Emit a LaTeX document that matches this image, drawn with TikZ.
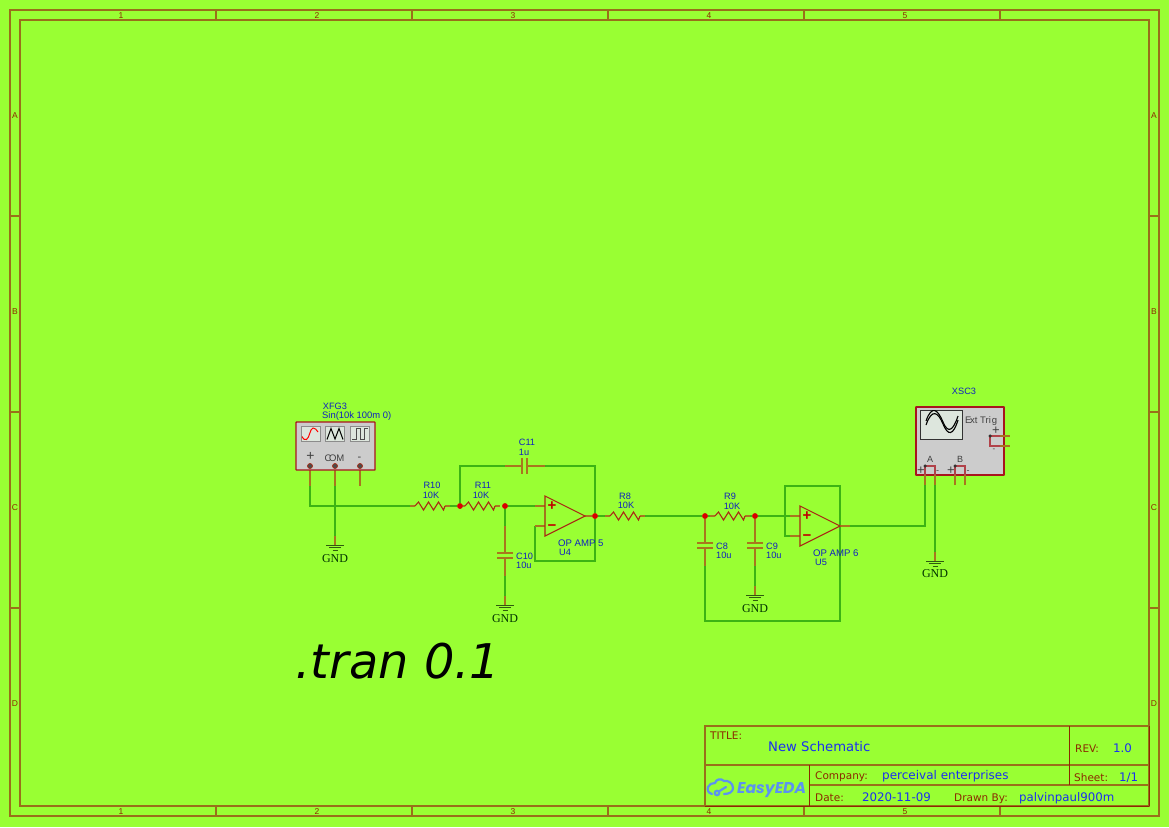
\documentclass[tikz,border=0pt]{standalone}
\usepackage{fontspec}
\setmainfont{Liberation Sans}
\newfontfamily\djv{DejaVu Sans}
\newfontfamily\serf{Liberation Serif}
\newfontfamily\logofont{Poppins}
\usetikzlibrary{calc}
\definecolor{bgc}{HTML}{99FF33}
\definecolor{framec}{HTML}{996F1A}
\definecolor{lblc}{HTML}{8B2A00}
\definecolor{wirec}{HTML}{3CB414}
\definecolor{pinc}{HTML}{A8761E}
\definecolor{partc}{HTML}{A82A14}
\definecolor{txtc}{HTML}{1020C0}
\definecolor{titc}{HTML}{1A2FF0}
\definecolor{gndc}{HTML}{2F5A10}
\definecolor{logoc}{HTML}{5B92F0}
\definecolor{boxc}{HTML}{CCCCCC}
\definecolor{btnc}{HTML}{DDE6DD}
\definecolor{redbox}{HTML}{A8141E}
\tikzset{
  x=1pt,y=-1pt,
  framel/.style={draw=framec,line width=1.5pt},
  framet/.style={draw=lblc,line width=1pt},
  wire/.style={draw=wirec,line width=1.5pt},
  pinl/.style={draw=pinc,line width=1.5pt},
  part/.style={draw=partc,line width=1.1pt},
  junc/.style={circle,fill=red!85!black,inner sep=0pt,minimum size=5.5pt},
  port/.style={circle,fill=black!70,draw=partc,line width=.7pt,inner sep=0pt,minimum size=5pt},
  lab/.style={inner sep=0pt,text=txtc,font=\fontsize{9.2}{10}\selectfont,anchor=mid,yshift=-1.2pt},
  lft/.style={lab,anchor=mid west},
  bord/.style={inner sep=0pt,text=lblc,font=\fontsize{8.5}{9}\selectfont,anchor=mid,yshift=-1pt},
  tlab/.style={inner sep=0pt,text=lblc,font=\djv\fontsize{10.5}{12}\selectfont,anchor=mid west,yshift=-2pt},
  tval/.style={inner sep=0pt,text=titc,font=\djv\fontsize{11.8}{13}\selectfont,anchor=mid west,yshift=-2pt},
  gtxt/.style={inner sep=0pt,text=black!80!green,font=\serf\fontsize{12}{13}\selectfont,anchor=mid,yshift=-2pt},
  ilab/.style={inner sep=0pt,text=black!75,font=\fontsize{9.5}{10}\selectfont,anchor=mid,yshift=-1pt},
  btn/.style={draw=black!45,fill=btnc,line width=.9pt},
  sgn/.style={inner sep=0pt,text=red!75!black,font=\bfseries\fontsize{15}{15}\selectfont,anchor=mid,yshift=-1.5pt},
}
\newcommand{\resistor}[1]{%
  \draw[pinl] (#1) -- ++(5,0) ++(30,0) -- ++(5,0);
  \draw[part] ($(#1)+(5,0)$) -- ++(3.5,-4) -- ++(5,8) -- ++(5,-8) -- ++(5,8) -- ++(5,-8) -- ++(5,8) -- ++(1.5,-4);
}
\newcommand{\vcap}[1]{%
  \draw[pinl] (#1) -- ++(0,27) ++(0,5) -- ++(0,18);
  \draw[pinl] ($(#1)+(-8,27)$) -- ++(16,0) ($(#1)+(-8,32)$) -- ++(16,0);
}
\newcommand{\gnd}[1]{%
  \draw[pinl] (#1) -- ++(0,9);
  \draw[gndc,line width=1pt] ($(#1)+(-9,9)$) -- ++(18,0) ($(#1)+(-6,11.5)$) -- ++(12,0) ($(#1)+(-2.5,14)$) -- ++(5,0);
}
\begin{document}
\begin{tikzpicture}
\useasboundingbox (0,0) rectangle (1169,827);
\fill[bgc] (0,0) rectangle (1169,827);
% frame
\draw[framel] (10,10) rectangle (1159,816);
\draw[framel] (20,20) rectangle (1149,806);
\foreach \x in {216,412,608,804,1000}{
  \draw[framel] (\x,10) -- (\x,20);
  \draw[framel] (\x,806) -- (\x,816);
}
\foreach \y in {216,412,608}{
  \draw[framel] (10,\y) -- (20,\y);
  \draw[framel] (1149,\y) -- (1159,\y);
}
\foreach \x/\t in {121/1,317/2,513/3,709/4,905/5}{
  \node[bord] (top\t) at (\x,15) {\t};
  \node[bord] (bot\t) at (\x,811) {\t};
}
\foreach \y/\t in {115/A,311/B,507/C,703/D}{
  \node[bord] (lf\t) at (15,\y) {\t};
  \node[bord] (rt\t) at (1154,\y) {\t};
}
% title block
\draw[framel] (705,726) rectangle (1149,806);
\draw[framel] (705,765) -- (1149,765);
\draw[framel] (809,785) -- (1149,785);
\draw[framet] (809,765) -- (809,806);
\draw[framet] (1069,726) -- (1069,785);
\draw[framet] (705,806) -- (1149,806);
\draw[framet] (1149,726) -- (1149,806);
\node[tlab] (ttitle) at (710,735) {TITLE:};
\node[tval,font=\djv\fontsize{13.2}{15}\selectfont] (tname) at (768,747) {New Schematic};
\node[tlab] (trev) at (1075,748) {REV:};
\node[tval] (trevv) at (1113,748) {1.0};
\node[tlab] (tcomp) at (815,775) {Company:};
\node[tval,font=\djv\fontsize{12}{13}\selectfont] (tcompv) at (882,775) {perceival enterprises};
\node[tlab] (tsheet) at (1074,777) {Sheet:};
\node[tval] (tsheetv) at (1119,777) {1/1};
\node[tlab] (tdate) at (815,797) {Date:};
\node[tval] (tdatev) at (862,797) {2020-11-09};
\node[tlab] (tdrawn) at (954,797) {Drawn By:};
\node[tval] (tdrawnv) at (1019,797) {palvinpaul900m};
% logo
\draw[logoc,line width=2.2pt,line cap=round,line join=round]
  (712,794) .. controls (708,793) and (707,790) .. (708,787)
  .. controls (709,784) and (712,783) .. (715,783)
  .. controls (716,779) and (721,778) .. (724,781)
  .. controls (728,780) and (733,783) .. (733,788)
  .. controls (733,792) and (729,794) .. (724,794);
\draw[logoc,line width=2.2pt,line cap=round] (717,793) circle (2.2) (719.5,791) -- (726,787);
\node[inner sep=0pt,anchor=mid west,text=logoc,font=\logofont\bfseries\itshape\fontsize{15.6}{17}\selectfont,yshift=-2pt] (logot) at (737,789) {EasyEDA};
% .tran
\node[inner sep=0pt,anchor=mid west,text=black,font=\djv\itshape\fontsize{47.8}{50}\selectfont] (tran) at (295.5,676) {.tran 0.1};

% named points
\foreach \n/\x/\y in {
 fp/310/466, fc/335/466, fm/360/466, fpb/310/486, fcb/335/486, fmb/360/486,
 r10l/410/506, r10r/450/506, r11l/460/506, r11r/500/506,
 c11l/505/466, c11r/545/466, c11a/522/466, c11b/527/466,
 ap/535/506, am/535/526, aout/585/516, fb1/535/561, fb2/595/561, c11c/595/466, c11d/460/466,
 r8l/605/516, r8r/645/516, r9l/710/516, r9r/750/516,
 bp/790/516, bm/790/536, bout/840/526, boutp/850/526,
 lp1/785/536, lp2/785/486, lp3/840/486, lp4/840/621, lp5/705/621,
 c10t/505/526, c10b/505/576, c8t/705/516, c8b/705/566, c9t/755/516, c9b/755/566,
 g1/335/536, g2/505/596, g3/755/586, g4/935/552,
 sa/925/485, sam/935/485, sc/925/526, sfp/310/506,
 sa0/925/466, sam0/935/466, sb0/955/466, sbm0/965/466, sb/955/485, sbm/965/485,
 tr1/990/436, tr2/990/446, tr3/1000/436, tr4/1000/446, tr5/1010/436, tr6/1010/446,
 ia/545/506, ib/545/526, ja/800/516, jb/800/536}
 {\coordinate (\n) at (\x,\y);}
\node[junc] (n460) at (460,506) {};
\node[junc] (n505) at (505,506) {};
\node[junc] (n595) at (595,516) {};
\node[junc] (n705) at (705,516) {};
\node[junc] (n755) at (755,516) {};

% wires
\draw[wire] (fpb) -- (sfp) -- (r10l);
\draw[wire] (fcb) -- (g1);
\draw[wire] (r10r) -- (n460);
\draw[wire] (n460) -- (c11d) -- (c11l);
\draw[wire] (c11r) -- (c11c) -- (n595);
\draw[wire] (n595) -- (fb2) -- (fb1) -- (am);
\draw[wire] (n505) -- (ap);
\draw[wire] (n505) -- (c10t);
\draw[wire] (c10b) -- (g2);
\draw[wire] (n595) -- (r8l);
\draw[wire] (r8r) -- (n705);
\draw[wire] (n705) -- (r9l);
\draw[wire] (r9r) -- (n755);
\draw[wire] (n755) -- (bp);
\draw[wire] (bm) -- (lp1) -- (lp2) -- (lp3) -- (lp4) -- (lp5) -- (c8b);
\draw[wire] (n755) -- (c9t);
\draw[wire] (c9b) -- (g3);
\draw[wire] (boutp) -- (sc) -- (sa);
\draw[wire] (sam) -- (g4);

% pins and passive parts
\draw[pinl] (fp) -- (fpb);
\draw[pinl] (fc) -- (fcb);
\draw[pinl] (fm) -- (fmb);
\resistor{r10l}
\resistor{r11l}
\resistor{r8l}
\resistor{r9l}
\vcap{c10t}
\vcap{c8t}
\vcap{c9t}
\draw[pinl] (c11l) -- (c11a);
\draw[pinl] (c11b) -- (c11r);
\draw[pinl] ($(c11a)+(0,-8)$) -- ($(c11a)+(0,8)$);
\draw[pinl] ($(c11b)+(0,-8)$) -- ($(c11b)+(0,8)$);
\gnd{g1}
\gnd{g2}
\gnd{g3}
\gnd{g4}
\node[gtxt] (gt1) at (335,558) {GND};
\node[gtxt] (gt2) at (505,618) {GND};
\node[gtxt] (gt3) at (755,608) {GND};
\node[gtxt] (gt4) at (935,573) {GND};

% op amps
\draw[pinl] (ap) -- (ia);
\draw[pinl] (am) -- (ib);
\draw[pinl] (aout) -- (n595);
\draw[part] (545,496) -- (585,516) -- (545,536) -- cycle;
\node[sgn] (ua1) at (552,506) {+};
\node[sgn] (ua2) at (552,526) {\textminus};
\draw[pinl] (bp) -- (ja);
\draw[pinl] (bm) -- (jb);
\draw[pinl] (bout) -- (boutp);
\draw[part] (800,506) -- (840,526) -- (800,546) -- cycle;
\node[sgn] (ub1) at (807,516) {+};
\node[sgn] (ub2) at (807,536) {\textminus};

% junctions on top
\node[junc] at (n460) {};
\node[junc] at (n505) {};
\node[junc] at (n595) {};
\node[junc] at (n705) {};
\node[junc] at (n755) {};

% function generator
\draw[draw=redbox,fill=boxc,line width=1.4pt,rounded corners=.5pt] (296,422) rectangle (375,470);
\draw[btn] (301,426.5) rectangle (320,441);
\draw[btn] (325.5,426.5) rectangle (344.5,441);
\draw[btn] (350.5,426.5) rectangle (369.5,441);
\draw[red,line width=1pt] (302,436.5) .. controls (303.5,439.5) and (305,440) .. (306.5,439.5) .. controls (309.5,438) and (310,428.5) .. (313,428) .. controls (315,427.5) and (316.5,430) .. (318,432);
\draw[black,line width=1pt] (327,439.5) -- (331,428.5) -- (335,439) -- (339,428.5) -- (343,439.5);
\draw[black!70,line width=1pt] (352,439) -- (356.5,439) -- (356.5,428.5) -- (360,428.5) -- (360,439) -- (364,439) -- (364,428.5) -- (368,428.5);
\node[ilab,font=\fontsize{14}{14}\selectfont] (fgp) at (310.5,457) {+};
\node[ilab] (fgc) at (334.5,458) {C\kern-2.5ptOM};
\node[ilab,font=\fontsize{11}{11}\selectfont] (fgm) at (359.5,457) {-};
\node[port] (pf1) at (fp) {};
\node[port] (pf2) at (fc) {};
\node[port] (pf3) at (fm) {};

% scope
\draw[draw=redbox,fill=boxc,line width=1.8pt,rounded corners=.5pt] (916,407) rectangle (1004,475);
\draw[fill=btnc,draw=black!80,line width=1pt] (920.5,410.5) rectangle (962.5,439);
\draw[black,line width=1.1pt] (926,425) .. controls (932,408) and (938,412) .. (943,424) .. controls (948,436) and (953,436) .. (958,420);
\draw[black,line width=1.1pt] (926,421) .. controls (932,404) and (938,410) .. (943,422) .. controls (948,434) and (953,431) .. (958,416);
\node[ilab,anchor=mid west] (ext) at (965,420) {E\kern-1.5ptxt};
\node[ilab,anchor=mid west] (trig) at (980,420) {Tri\kern1ptg};
\draw[pinl] (sa) -- (sa |- 0,475);
\draw[pinl] (sam) -- (sam |- 0,475);
\draw[pinl] (sb) -- (sb |- 0,475);
\draw[pinl] (sbm) -- (sbm |- 0,475);
\draw[pinl] (tr3) -- (tr5);
\draw[pinl] (tr4) -- (tr6);
\draw[draw=redbox!75!boxc,line width=1.1pt] (sa0 |- 0,475) -- (sa0) -- (sam0) -- (sam0 |- 0,475);
\draw[draw=redbox!75!boxc,line width=1.1pt] (sb0 |- 0,475) -- (sb0) -- (sbm0) -- (sbm0 |- 0,475);
\draw[draw=redbox!75!boxc,line width=1.1pt] (tr3) -- (tr1) -- (tr2) -- (tr4);
\node[circle,fill=black!80,inner sep=0pt,minimum size=3.5pt] (tn) at (tr1) {};
\node[circle,fill=black!80,inner sep=0pt,minimum size=3.5pt] (an) at (sa0) {};
\node[circle,fill=black!80,inner sep=0pt,minimum size=3.5pt] (bn) at (sb0) {};
\node[ilab,font=\fontsize{13}{13}\selectfont] (sp1) at (996,431) {+};
\node[ilab,font=\fontsize{8}{8}\selectfont] (sp2) at (994,448) {-};
\node[ilab,font=\fontsize{9}{9}\selectfont] (sA) at (930,459) {A};
\node[ilab,font=\fontsize{9}{9}\selectfont] (sB) at (960,459) {B};
\node[ilab,font=\fontsize{13}{13}\selectfont] (sAp) at (921,470.5) {+};
\node[ilab,font=\fontsize{9}{9}\selectfont] (sAm) at (937.5,470) {-};
\node[ilab,font=\fontsize{13}{13}\selectfont] (sBp) at (951,470.5) {+};
\node[ilab,font=\fontsize{9}{9}\selectfont] (sBm) at (968,470) {-};

% labels
\node[lab] (l1) at (335,406) {XFG3};
\node[lft,font=\fontsize{9.4}{10}\selectfont] (l2) at (322,415) {Sin(10k 100m 0)};
\node[lab] (l3) at (432,485) {R10};
\node[lab] (l4) at (431,495) {10K};
\node[lab] (l5) at (483,485) {R11};
\node[lab] (l6) at (481,495) {10K};
\node[lab] (l7) at (527,442) {C11};
\node[lab] (l8) at (524,452) {1u};
\node[lft] (l9) at (516,555.5) {C10};
\node[lft] (l10) at (516,565) {10u};
\node[lab] (l11) at (625,495.5) {R8};
\node[lab] (l12) at (626,505) {10K};
\node[lab] (l13) at (730,496) {R9};
\node[lab] (l14) at (732,506) {10K};
\node[lft,font=\fontsize{9.6}{10}\selectfont] (l15) at (558,542.5) {OP AMP 5};
\node[lft] (l16) at (559,552) {U4};
\node[lft] (l17) at (716,545.5) {C8};
\node[lft] (l18) at (716,555) {10u};
\node[lft] (l19) at (766,545.5) {C9};
\node[lft] (l20) at (766,555) {10u};
\node[lft,font=\fontsize{9.6}{10}\selectfont] (l21) at (813,552.5) {OP AMP 6};
\node[lft] (l22) at (815,562) {U5};
\node[lab] (l23) at (964,391) {XSC3};
\end{tikzpicture}
\end{document}
